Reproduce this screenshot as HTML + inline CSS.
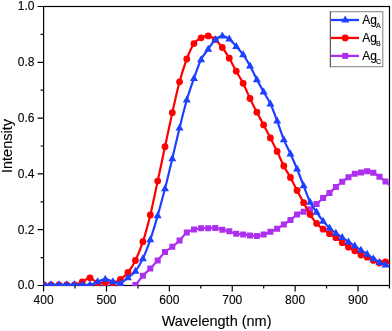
<!DOCTYPE html>
<html><head><meta charset="utf-8"><style>
html,body{margin:0;padding:0;background:#fff;}
body{width:392px;height:331px;overflow:hidden;}
svg{display:block;will-change:transform;}
</style></head><body>
<svg width="392" height="331" viewBox="0 0 392 331">
<defs><clipPath id="c"><rect x="43.6" y="6.5" width="345.9" height="279.5"/></clipPath></defs>
<rect x="43.6" y="6.5" width="345.9" height="279.0" fill="none" stroke="#000" stroke-width="1.2"/>
<g clip-path="url(#c)">
<path d="M43.80,287.50 C45.00,287.50 48.49,287.50 51.00,287.50 C53.51,287.50 56.25,287.50 58.87,287.50 C61.49,287.50 64.10,287.50 66.70,287.50 C69.30,287.50 71.90,287.50 74.49,287.50 C77.08,287.50 79.67,287.50 82.25,287.50 C84.82,287.50 87.40,287.50 89.96,287.50 C92.53,287.50 95.09,287.50 97.64,287.50 C100.19,287.50 102.74,287.50 105.28,287.50 C107.82,287.50 110.35,287.50 112.88,287.50 C115.41,287.50 117.93,287.00 120.44,287.50 C122.95,288.00 125.46,290.92 127.96,290.50 C130.47,290.08 132.96,287.47 135.45,285.00 C137.94,282.53 140.42,278.45 142.90,275.70 C145.37,272.95 147.84,271.05 150.31,268.50 C152.77,265.95 155.23,263.15 157.68,260.40 C160.13,257.65 162.57,254.27 165.01,252.00 C167.45,249.73 169.88,248.72 172.30,246.80 C174.73,244.88 177.15,242.88 179.56,240.50 C181.97,238.12 184.38,234.33 186.78,232.50 C189.18,230.67 191.57,230.20 193.96,229.50 C196.34,228.80 198.72,228.50 201.10,228.30 C203.47,228.10 205.84,228.37 208.20,228.30 C210.56,228.23 212.92,227.67 215.27,227.90 C217.61,228.13 219.96,229.13 222.29,229.70 C224.63,230.27 226.96,230.62 229.28,231.30 C231.60,231.98 233.92,233.28 236.23,233.80 C238.54,234.32 240.84,234.13 243.14,234.40 C245.44,234.67 247.73,235.13 250.01,235.40 C252.30,235.67 254.58,236.13 256.85,236.00 C259.12,235.87 261.38,235.32 263.64,234.60 C265.90,233.88 268.16,232.67 270.40,231.70 C272.65,230.73 274.89,230.02 277.12,228.80 C279.36,227.58 281.58,225.87 283.80,224.40 C286.02,222.93 288.24,221.65 290.45,220.00 C292.65,218.35 294.86,215.88 297.05,214.50 C299.25,213.12 301.43,212.57 303.62,211.70 C305.80,210.83 307.98,210.60 310.15,209.30 C312.32,208.00 314.48,205.77 316.64,203.90 C318.79,202.03 320.94,199.92 323.09,198.10 C325.23,196.28 327.37,194.85 329.50,193.00 C331.63,191.15 333.76,188.87 335.88,187.00 C337.99,185.13 340.11,183.43 342.21,181.80 C344.32,180.17 346.42,178.53 348.51,177.20 C350.60,175.87 352.69,174.60 354.77,173.80 C356.85,173.00 358.92,172.82 360.99,172.40 C363.06,171.98 365.12,171.23 367.18,171.30 C369.23,171.37 371.28,171.90 373.32,172.80 C375.36,173.70 377.40,175.25 379.43,176.70 C381.46,178.15 383.65,179.97 385.50,181.50 C387.34,183.03 389.67,185.17 390.50,185.90" fill="none" stroke="#ad30f0" stroke-width="2.2"/>
<path d="M40.80,284.50 h6 v6 h-6 Z M48.00,284.50 h6 v6 h-6 Z M55.87,284.50 h6 v6 h-6 Z M63.70,284.50 h6 v6 h-6 Z M71.49,284.50 h6 v6 h-6 Z M79.25,284.50 h6 v6 h-6 Z M86.96,284.50 h6 v6 h-6 Z M94.64,284.50 h6 v6 h-6 Z M102.28,284.50 h6 v6 h-6 Z M109.88,284.50 h6 v6 h-6 Z M117.44,284.50 h6 v6 h-6 Z M124.96,287.50 h6 v6 h-6 Z M132.45,282.00 h6 v6 h-6 Z M139.90,272.70 h6 v6 h-6 Z M147.31,265.50 h6 v6 h-6 Z M154.68,257.40 h6 v6 h-6 Z M162.01,249.00 h6 v6 h-6 Z M169.30,243.80 h6 v6 h-6 Z M176.56,237.50 h6 v6 h-6 Z M183.78,229.50 h6 v6 h-6 Z M190.96,226.50 h6 v6 h-6 Z M198.10,225.30 h6 v6 h-6 Z M205.20,225.30 h6 v6 h-6 Z M212.27,224.90 h6 v6 h-6 Z M219.29,226.70 h6 v6 h-6 Z M226.28,228.30 h6 v6 h-6 Z M233.23,230.80 h6 v6 h-6 Z M240.14,231.40 h6 v6 h-6 Z M247.01,232.40 h6 v6 h-6 Z M253.85,233.00 h6 v6 h-6 Z M260.64,231.60 h6 v6 h-6 Z M267.40,228.70 h6 v6 h-6 Z M274.12,225.80 h6 v6 h-6 Z M280.80,221.40 h6 v6 h-6 Z M287.45,217.00 h6 v6 h-6 Z M294.05,211.50 h6 v6 h-6 Z M300.62,208.70 h6 v6 h-6 Z M307.15,206.30 h6 v6 h-6 Z M313.64,200.90 h6 v6 h-6 Z M320.09,195.10 h6 v6 h-6 Z M326.50,190.00 h6 v6 h-6 Z M332.88,184.00 h6 v6 h-6 Z M339.21,178.80 h6 v6 h-6 Z M345.51,174.20 h6 v6 h-6 Z M351.77,170.80 h6 v6 h-6 Z M357.99,169.40 h6 v6 h-6 Z M364.18,168.30 h6 v6 h-6 Z M370.32,169.80 h6 v6 h-6 Z M376.43,173.70 h6 v6 h-6 Z M382.50,178.50 h6 v6 h-6 Z" fill="#ad30f0"/>
<path d="M43.80,285.00 C45.00,285.00 48.49,285.00 51.00,285.00 C53.51,285.00 56.25,285.00 58.87,285.00 C61.49,285.00 64.10,285.00 66.70,285.00 C69.30,285.00 71.90,285.52 74.49,285.00 C77.08,284.48 79.67,283.10 82.25,281.90 C84.82,280.70 87.40,277.62 89.96,277.80 C92.53,277.98 95.09,282.23 97.64,283.00 C100.19,283.77 102.74,282.40 105.28,282.40 C107.82,282.40 110.35,283.50 112.88,283.00 C115.41,282.50 117.93,281.15 120.44,279.40 C122.95,277.65 125.46,275.65 127.96,272.50 C130.47,269.35 132.96,265.63 135.45,260.50 C137.94,255.37 140.42,249.28 142.90,241.70 C145.37,234.12 147.84,225.10 150.31,215.00 C152.77,204.90 155.23,192.48 157.68,181.10 C160.13,169.72 162.57,158.10 165.01,146.70 C167.45,135.30 169.88,123.52 172.30,112.70 C174.73,101.88 177.15,90.75 179.56,81.80 C181.97,72.85 184.38,65.37 186.78,59.00 C189.18,52.63 191.57,47.13 193.96,43.60 C196.34,40.07 198.72,39.08 201.10,37.80 C203.47,36.52 205.84,35.60 208.20,35.90 C210.56,36.20 212.92,37.67 215.27,39.60 C217.61,41.53 219.96,44.40 222.29,47.50 C224.63,50.60 226.96,54.25 229.28,58.20 C231.60,62.15 233.92,67.02 236.23,71.20 C238.54,75.38 240.84,78.75 243.14,83.30 C245.44,87.85 247.73,93.68 250.01,98.50 C252.30,103.32 254.58,107.80 256.85,112.20 C259.12,116.60 261.38,120.62 263.64,124.90 C265.90,129.18 268.16,133.48 270.40,137.90 C272.65,142.32 274.89,146.73 277.12,151.40 C279.36,156.07 281.58,161.55 283.80,165.90 C286.02,170.25 288.24,173.40 290.45,177.50 C292.65,181.60 294.86,186.30 297.05,190.50 C299.25,194.70 301.43,198.68 303.62,202.70 C305.80,206.72 307.98,211.15 310.15,214.60 C312.32,218.05 314.48,220.97 316.64,223.40 C318.79,225.83 320.94,227.48 323.09,229.20 C325.23,230.92 327.37,232.28 329.50,233.70 C331.63,235.12 333.76,236.20 335.88,237.70 C337.99,239.20 340.11,241.12 342.21,242.70 C344.32,244.28 346.42,245.85 348.51,247.20 C350.60,248.55 352.69,249.50 354.77,250.80 C356.85,252.10 358.92,253.93 360.99,255.00 C363.06,256.07 365.12,256.30 367.18,257.20 C369.23,258.10 371.28,259.43 373.32,260.40 C375.36,261.37 377.40,262.73 379.43,263.00 C381.46,263.27 383.65,261.92 385.50,262.00 C387.34,262.08 389.67,263.25 390.50,263.50" fill="none" stroke="#ff0000" stroke-width="2.2"/>
<g fill="#ff0000"><circle cx="43.80" cy="285.00" r="3.4"/><circle cx="51.00" cy="285.00" r="3.4"/><circle cx="58.87" cy="285.00" r="3.4"/><circle cx="66.70" cy="285.00" r="3.4"/><circle cx="74.49" cy="285.00" r="3.4"/><circle cx="82.25" cy="281.90" r="3.4"/><circle cx="89.96" cy="277.80" r="3.4"/><circle cx="97.64" cy="283.00" r="3.4"/><circle cx="105.28" cy="282.40" r="3.4"/><circle cx="112.88" cy="283.00" r="3.4"/><circle cx="120.44" cy="279.40" r="3.4"/><circle cx="127.96" cy="272.50" r="3.4"/><circle cx="135.45" cy="260.50" r="3.4"/><circle cx="142.90" cy="241.70" r="3.4"/><circle cx="150.31" cy="215.00" r="3.4"/><circle cx="157.68" cy="181.10" r="3.4"/><circle cx="165.01" cy="146.70" r="3.4"/><circle cx="172.30" cy="112.70" r="3.4"/><circle cx="179.56" cy="81.80" r="3.4"/><circle cx="186.78" cy="59.00" r="3.4"/><circle cx="193.96" cy="43.60" r="3.4"/><circle cx="201.10" cy="37.80" r="3.4"/><circle cx="208.20" cy="35.90" r="3.4"/><circle cx="215.27" cy="39.60" r="3.4"/><circle cx="222.29" cy="47.50" r="3.4"/><circle cx="229.28" cy="58.20" r="3.4"/><circle cx="236.23" cy="71.20" r="3.4"/><circle cx="243.14" cy="83.30" r="3.4"/><circle cx="250.01" cy="98.50" r="3.4"/><circle cx="256.85" cy="112.20" r="3.4"/><circle cx="263.64" cy="124.90" r="3.4"/><circle cx="270.40" cy="137.90" r="3.4"/><circle cx="277.12" cy="151.40" r="3.4"/><circle cx="283.80" cy="165.90" r="3.4"/><circle cx="290.45" cy="177.50" r="3.4"/><circle cx="297.05" cy="190.50" r="3.4"/><circle cx="303.62" cy="202.70" r="3.4"/><circle cx="310.15" cy="214.60" r="3.4"/><circle cx="316.64" cy="223.40" r="3.4"/><circle cx="323.09" cy="229.20" r="3.4"/><circle cx="329.50" cy="233.70" r="3.4"/><circle cx="335.88" cy="237.70" r="3.4"/><circle cx="342.21" cy="242.70" r="3.4"/><circle cx="348.51" cy="247.20" r="3.4"/><circle cx="354.77" cy="250.80" r="3.4"/><circle cx="360.99" cy="255.00" r="3.4"/><circle cx="367.18" cy="257.20" r="3.4"/><circle cx="373.32" cy="260.40" r="3.4"/><circle cx="379.43" cy="263.00" r="3.4"/><circle cx="385.50" cy="262.00" r="3.4"/></g>
<path d="M43.80,284.70 C45.00,284.70 48.49,284.70 51.00,284.70 C53.51,284.70 56.25,284.70 58.87,284.70 C61.49,284.70 64.10,284.70 66.70,284.70 C69.30,284.70 71.90,284.70 74.49,284.70 C77.08,284.70 79.67,284.70 82.25,284.70 C84.82,284.70 87.40,285.22 89.96,284.70 C92.53,284.18 95.09,282.53 97.64,281.60 C100.19,280.67 102.74,279.10 105.28,279.10 C107.82,279.10 110.35,280.92 112.88,281.60 C115.41,282.28 117.93,283.87 120.44,283.20 C122.95,282.53 125.46,279.60 127.96,277.60 C130.47,275.60 132.96,274.37 135.45,271.20 C137.94,268.03 140.42,263.87 142.90,258.60 C145.37,253.33 147.84,246.77 150.31,239.60 C152.77,232.43 155.23,224.10 157.68,215.60 C160.13,207.10 162.57,198.10 165.01,188.60 C167.45,179.10 169.88,168.72 172.30,158.60 C174.73,148.48 177.15,137.67 179.56,127.90 C181.97,118.13 184.38,108.25 186.78,100.00 C189.18,91.75 191.57,85.13 193.96,78.40 C196.34,71.67 198.72,64.47 201.10,59.60 C203.47,54.73 205.84,52.53 208.20,49.20 C210.56,45.87 212.92,41.80 215.27,39.60 C217.61,37.40 219.96,36.10 222.29,36.00 C224.63,35.90 226.96,37.27 229.28,39.00 C231.60,40.73 233.92,43.80 236.23,46.40 C238.54,49.00 240.84,51.37 243.14,54.60 C245.44,57.83 247.73,61.63 250.01,65.80 C252.30,69.97 254.58,75.27 256.85,79.60 C259.12,83.93 261.38,87.77 263.64,91.80 C265.90,95.83 268.16,98.97 270.40,103.80 C272.65,108.63 274.89,114.83 277.12,120.80 C279.36,126.77 281.58,134.10 283.80,139.60 C286.02,145.10 288.24,148.90 290.45,153.80 C292.65,158.70 294.86,163.70 297.05,169.00 C299.25,174.30 301.43,180.08 303.62,185.60 C305.80,191.12 307.98,197.68 310.15,202.10 C312.32,206.52 314.48,208.93 316.64,212.10 C318.79,215.27 320.94,218.45 323.09,221.10 C325.23,223.75 327.37,225.98 329.50,228.00 C331.63,230.02 333.76,231.62 335.88,233.20 C337.99,234.78 340.11,236.07 342.21,237.50 C344.32,238.93 346.42,240.38 348.51,241.80 C350.60,243.22 352.69,244.60 354.77,246.00 C356.85,247.40 358.92,248.83 360.99,250.20 C363.06,251.57 365.12,252.78 367.18,254.20 C369.23,255.62 371.28,257.35 373.32,258.70 C375.36,260.05 377.40,261.25 379.43,262.30 C381.46,263.35 383.65,264.28 385.50,265.00 C387.34,265.72 389.67,266.33 390.50,266.60" fill="none" stroke="#1e40ff" stroke-width="2.2"/>
<path d="M43.80,280.29 L47.80,287.29 L39.80,287.29 Z M51.00,280.29 L55.00,287.29 L47.00,287.29 Z M58.87,280.29 L62.87,287.29 L54.87,287.29 Z M66.70,280.29 L70.70,287.29 L62.70,287.29 Z M74.49,280.29 L78.49,287.29 L70.49,287.29 Z M82.25,280.29 L86.25,287.29 L78.25,287.29 Z M89.96,280.29 L93.96,287.29 L85.96,287.29 Z M97.64,277.19 L101.64,284.19 L93.64,284.19 Z M105.28,274.69 L109.28,281.69 L101.28,281.69 Z M112.88,277.19 L116.88,284.19 L108.88,284.19 Z M120.44,278.79 L124.44,285.79 L116.44,285.79 Z M127.96,273.19 L131.96,280.19 L123.96,280.19 Z M135.45,266.79 L139.45,273.79 L131.45,273.79 Z M142.90,254.19 L146.90,261.19 L138.90,261.19 Z M150.31,235.19 L154.31,242.19 L146.31,242.19 Z M157.68,211.19 L161.68,218.19 L153.68,218.19 Z M165.01,184.19 L169.01,191.19 L161.01,191.19 Z M172.30,154.19 L176.30,161.19 L168.30,161.19 Z M179.56,123.49 L183.56,130.49 L175.56,130.49 Z M186.78,95.59 L190.78,102.59 L182.78,102.59 Z M193.96,73.99 L197.96,80.99 L189.96,80.99 Z M201.10,55.19 L205.10,62.19 L197.10,62.19 Z M208.20,44.79 L212.20,51.79 L204.20,51.79 Z M215.27,35.19 L219.27,42.19 L211.27,42.19 Z M222.29,31.59 L226.29,38.59 L218.29,38.59 Z M229.28,34.59 L233.28,41.59 L225.28,41.59 Z M236.23,41.99 L240.23,48.99 L232.23,48.99 Z M243.14,50.19 L247.14,57.19 L239.14,57.19 Z M250.01,61.39 L254.01,68.39 L246.01,68.39 Z M256.85,75.19 L260.85,82.19 L252.85,82.19 Z M263.64,87.39 L267.64,94.39 L259.64,94.39 Z M270.40,99.39 L274.40,106.39 L266.40,106.39 Z M277.12,116.39 L281.12,123.39 L273.12,123.39 Z M283.80,135.19 L287.80,142.19 L279.80,142.19 Z M290.45,149.39 L294.45,156.39 L286.45,156.39 Z M297.05,164.59 L301.05,171.59 L293.05,171.59 Z M303.62,181.19 L307.62,188.19 L299.62,188.19 Z M310.15,197.69 L314.15,204.69 L306.15,204.69 Z M316.64,207.69 L320.64,214.69 L312.64,214.69 Z M323.09,216.69 L327.09,223.69 L319.09,223.69 Z M329.50,223.59 L333.50,230.59 L325.50,230.59 Z M335.88,228.79 L339.88,235.79 L331.88,235.79 Z M342.21,233.09 L346.21,240.09 L338.21,240.09 Z M348.51,237.39 L352.51,244.39 L344.51,244.39 Z M354.77,241.59 L358.77,248.59 L350.77,248.59 Z M360.99,245.79 L364.99,252.79 L356.99,252.79 Z M367.18,249.79 L371.18,256.79 L363.18,256.79 Z M373.32,254.29 L377.32,261.29 L369.32,261.29 Z M379.43,257.89 L383.43,264.89 L375.43,264.89 Z M385.50,260.59 L389.50,267.59 L381.50,267.59 Z" fill="#1e40ff"/>
</g>
<path d="M43.60,285.50 v6 M75.04,285.50 v3 M106.48,285.50 v6 M137.92,285.50 v3 M169.36,285.50 v6 M200.80,285.50 v3 M232.24,285.50 v6 M263.68,285.50 v3 M295.12,285.50 v6 M326.56,285.50 v3 M358.00,285.50 v6 M389.44,285.50 v3 M43.60,285.50 h-6 M43.60,257.60 h-3 M43.60,229.70 h-6 M43.60,201.80 h-3 M43.60,173.90 h-6 M43.60,146.00 h-3 M43.60,118.10 h-6 M43.60,90.20 h-3 M43.60,62.30 h-6 M43.60,34.40 h-3 M43.60,6.50 h-6" stroke="#000" stroke-width="1.2" fill="none"/>
<g font-family="Liberation Sans, sans-serif" font-size="12" fill="#000" stroke="#000" stroke-width="0.12">
<text x="34.5" y="289.30" text-anchor="end">0.0</text>
<text x="34.5" y="233.50" text-anchor="end">0.2</text>
<text x="34.5" y="177.70" text-anchor="end">0.4</text>
<text x="34.5" y="121.90" text-anchor="end">0.6</text>
<text x="34.5" y="66.10" text-anchor="end">0.8</text>
<text x="34.5" y="10.30" text-anchor="end">1.0</text>
<text x="43.60" y="303.7" text-anchor="middle">400</text>
<text x="106.48" y="303.7" text-anchor="middle">500</text>
<text x="169.36" y="303.7" text-anchor="middle">600</text>
<text x="232.24" y="303.7" text-anchor="middle">700</text>
<text x="295.12" y="303.7" text-anchor="middle">800</text>
<text x="358.00" y="303.7" text-anchor="middle">900</text>
</g>
<text x="216.6" y="325.6" text-anchor="middle" font-family="Liberation Sans, sans-serif" font-size="14.5" fill="#000" stroke="#000" stroke-width="0.12">Wavelength (nm)</text>
<text transform="translate(11.8,146) rotate(-90)" text-anchor="middle" font-family="Liberation Sans, sans-serif" font-size="14.5" fill="#000" stroke="#000" stroke-width="0.12">Intensity</text>
<rect x="330.4" y="11.7" width="52.4" height="55.0" fill="#fff" stroke="#8c8c8c" stroke-width="1.1"/>
<path d="M330.4,11.2 V67.2" stroke="#5a5a5a" stroke-width="1.1"/>
<path d="M331,20.00 H359" stroke="#1e40ff" stroke-width="2.3"/>
<path d="M345.20,15.59 L349.20,22.59 L341.20,22.59 Z" fill="#1e40ff"/>
<text x="362.2" y="23.60" font-family="Liberation Sans, sans-serif" font-size="12" fill="#000" stroke="#000" stroke-width="0.12">Ag<tspan font-size="7" dy="4.2" dx="-0.9">A</tspan></text>
<path d="M331,37.95 H359" stroke="#ff0000" stroke-width="2.3"/>
<circle cx="345.2" cy="37.95" r="3.4" fill="#ff0000"/>
<text x="362.2" y="41.55" font-family="Liberation Sans, sans-serif" font-size="12" fill="#000" stroke="#000" stroke-width="0.12">Ag<tspan font-size="7" dy="4.2" dx="-0.9">B</tspan></text>
<path d="M331,55.90 H359" stroke="#ad30f0" stroke-width="2.3"/>
<rect x="342.2" y="52.90" width="6" height="6" fill="#ad30f0"/>
<text x="362.2" y="59.50" font-family="Liberation Sans, sans-serif" font-size="12" fill="#000" stroke="#000" stroke-width="0.12">Ag<tspan font-size="7" dy="4.2" dx="-0.9">C</tspan></text>
</svg>
</body></html>
